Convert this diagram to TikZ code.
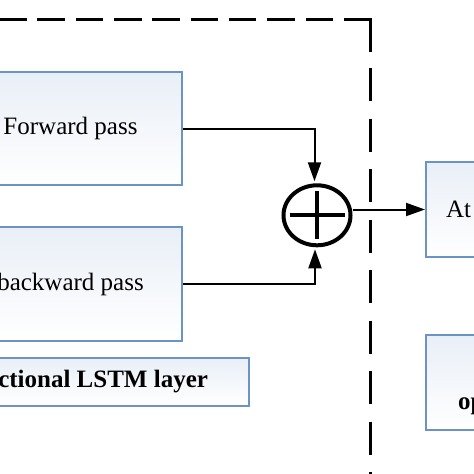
\documentclass[tikz,border=0pt]{standalone}
\usepackage{fontspec}
\setmainfont{Liberation Serif}
\usetikzlibrary{arrows.meta,shapes.geometric,calc}
\definecolor{boxline}{RGB}{108,147,197}
\definecolor{boxfill}{RGB}{233,239,247}
\begin{document}
\begin{tikzpicture}[x=1pt,y=-1pt,
  box/.style={draw=boxline, line width=2pt, shading angle=-60, top color=boxfill, bottom color=white,
              inner sep=0pt, font=\fontsize{25}{30}\selectfont},
  arr/.style={line width=2pt, -{Triangle[length=19pt,width=13pt]}},
  frame/.style={line width=3pt},
  plusbar/.style={line width=4pt}]
\useasboundingbox (0,0) rectangle (474,474);
\clip (0,0) rectangle (474,474);
\fill[white] (0,0) rectangle (474,474);
% boxes
\node[box, minimum width=223pt, minimum height=113pt] (fwd) at (70.5,128.5) {Forward pass};
\node[box, minimum width=223pt, minimum height=114pt] (bwd) at (70.5,284) {backward pass};
\node[box, minimum width=358pt, minimum height=48pt, anchor=east] (lbl) at (250,382) {\bfseries Bidirectional LSTM layer};
\node[box, minimum width=135pt, minimum height=95pt, text width=95pt, align=left,
      inner xsep=20pt, anchor=west] (att) at (425,209.5) {At};
\node[box, minimum width=135pt, minimum height=95pt, anchor=west] (outb) at (425,382.5) {};
\node[anchor=base west, inner sep=0pt, font=\fontsize{25}{30}\selectfont\bfseries] (outtxt) at (458,409) {op};
% sum
\node[draw, ellipse, line width=4pt, minimum width=67pt, minimum height=60pt, inner sep=0pt] (sum) at (317,215.3) {};
\draw[plusbar] ([yshift=24pt]sum.center) -- ([yshift=-24pt]sum.center);
\draw[plusbar] ([xshift=-27.5pt]sum.center) -- ([xshift=27.5pt]sum.center);
% connectors
\draw[arr] (fwd.east) -| ([xshift=-2.5pt,yshift=2pt]sum.north);
\draw[arr] (bwd.east) -| ([xshift=-2pt,yshift=-2pt]sum.south);
\draw[arr] (sum.east |- att.west) -- (att.west);
% dashed frame
\draw[frame] (344,19) -- (370,19) -- (370,52);
\draw[frame, dash pattern=on 27.5pt off 10.8pt] (333,19) -- (-10,19);
\draw[frame, dash pattern=on 33pt off 17.5pt] (370,68) -- (370,480);
\draw[frame, dash pattern=on 27pt off 11.3pt] (360,475.5) -- (-10,475.5);
\end{tikzpicture}
\end{document}
